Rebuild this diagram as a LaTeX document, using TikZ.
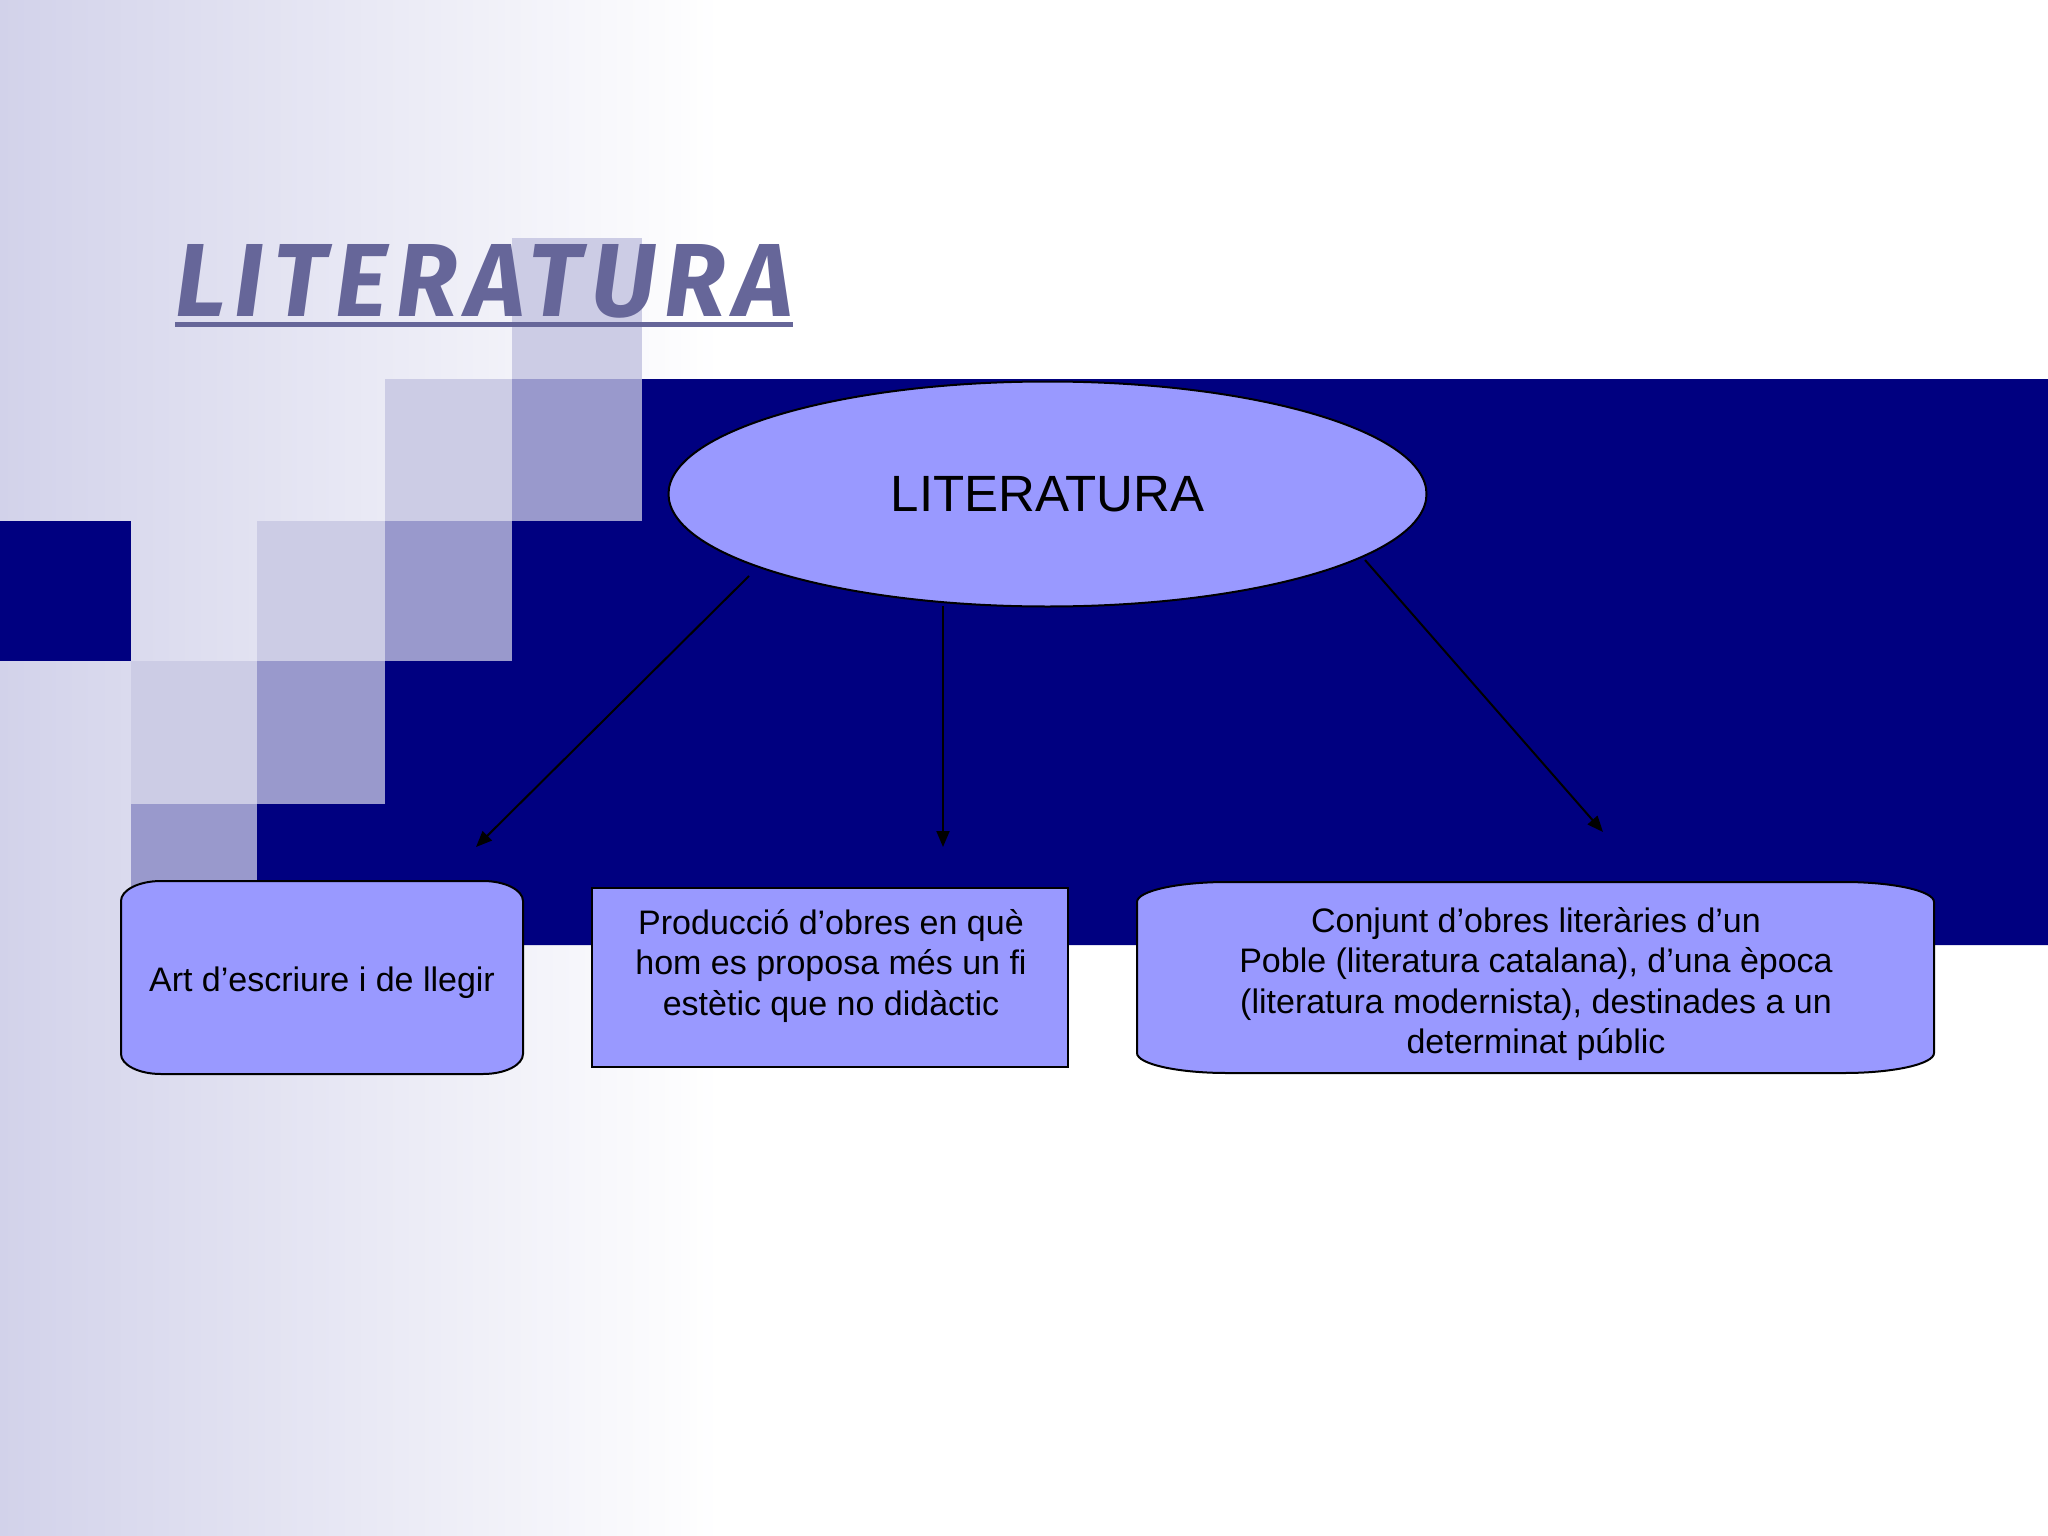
\documentclass[tikz,border=0pt]{standalone}
\usepackage{fontspec}
\setmainfont{Liberation Sans}
\newfontfamily\titlefont{Fira Sans}[LetterSpace=9]
\usepackage{graphicx}
\usetikzlibrary{shapes.geometric,arrows.meta}
\definecolor{navy}{RGB}{0,0,128}
\definecolor{sqlight}{RGB}{204,204,229}
\definecolor{sqmid}{RGB}{153,153,204}
\definecolor{boxfill}{RGB}{153,153,255}
\definecolor{titlecol}{RGB}{102,102,153}
\definecolor{bgleft}{RGB}{210,210,234}
\tikzset{
  shapebox/.style={fill=boxfill, draw=black, line width=2pt},
  boxtext/.style={inner sep=0pt, align=center, font=\fontsize{34}{40.5}\selectfont, text=black},
  arr/.style={-{Triangle[length=16pt,width=13pt]}, line width=2pt, draw=black},
}
\begin{document}
\begin{tikzpicture}[x=1pt,y=-1pt]
\useasboundingbox (0,0) rectangle (2048,1536);
\fill[white] (0,0) rectangle (2048,1536);
\shade[left color=bgleft, right color=white] (0,0) rectangle (720,1536);
% navy band with staircase
\fill[navy] (642,379) -- (2048,379) -- (2048,945) -- (257,945) -- (257,804) -- (385,804)
  -- (385,661) -- (512,661) -- (512,521) -- (642,521) -- cycle;
\fill[navy] (0,521) rectangle (131,661);
% light squares
\fill[sqlight] (512,238) rectangle (642,379);
\fill[sqlight] (385,379) rectangle (512,521);
\fill[sqlight] (257,521) rectangle (385,661);
\fill[sqlight] (131,661) rectangle (257,804);
% medium squares
\fill[sqmid] (512,379) rectangle (642,521);
\fill[sqmid] (385,521) rectangle (512,661);
\fill[sqmid] (257,661) rectangle (385,804);
\fill[sqmid] (131,804) rectangle (257,945);
% title
\node[anchor=base west, inner sep=0pt, text=titlecol] (title) at (175,316)
  {\resizebox{617pt}{72pt}{\titlefont\bfseries\itshape LITERATURA}};
\draw[titlecol, line width=5pt] ([yshift=-8pt]title.base west) -- ([yshift=-8pt]title.base east);
% central ellipse
\node[ellipse, shapebox, minimum width=758pt, minimum height=225pt, inner sep=0pt,
  font=\fontsize{51}{60}\selectfont] (lit) at (1047.5,494) {\raisebox{-3pt}{LITERATURA}};
% boxes
\draw[shapebox] (161,881) -- (483,881) .. controls (505.1,881) and (523,890) .. (523,901)
  -- (523,1054) .. controls (523,1065) and (505.1,1074) .. (483,1074)
  -- (161,1074) .. controls (138.9,1074) and (121,1065) .. (121,1054)
  -- (121,901) .. controls (121,890) and (138.9,881) .. (161,881) -- cycle;
\draw[shapebox] (592,888) rectangle (1068,1067);
\draw[shapebox] (1227,882) -- (1844,882) .. controls (1893.7,882) and (1934,891) .. (1934,902)
  -- (1934,1053) .. controls (1934,1064) and (1893.7,1073) .. (1844,1073)
  -- (1227,1073) .. controls (1177.3,1073) and (1137,1064) .. (1137,1053)
  -- (1137,902) .. controls (1137,891) and (1177.3,882) .. (1227,882) -- cycle;
\node[boxtext] (b1) at (322,983) {Art d’escriure i de llegir};
\node[boxtext] (b2) at (831,966) {Producció d’obres en què\\hom es proposa més un fi\\estètic que no didàctic};
\node[boxtext] (b3) at (1536,984) {Conjunt d’obres literàries d’un\\Poble (literatura catalana), d’una època\\(literatura modernista), destinades a un\\determinat públic};
% connectors
\coordinate (a1s) at (749,576);
\coordinate (a1e) at (476,847);
\coordinate (a2s) at (943,606);
\coordinate (a2e) at (943,847);
\coordinate (a3s) at (1365,560);
\coordinate (a3e) at (1603,832);
\draw[arr] (a1s) -- (a1e);
\draw[arr] (a2s) -- (a2e);
\draw[arr] (a3s) -- (a3e);
\end{tikzpicture}
\end{document}
